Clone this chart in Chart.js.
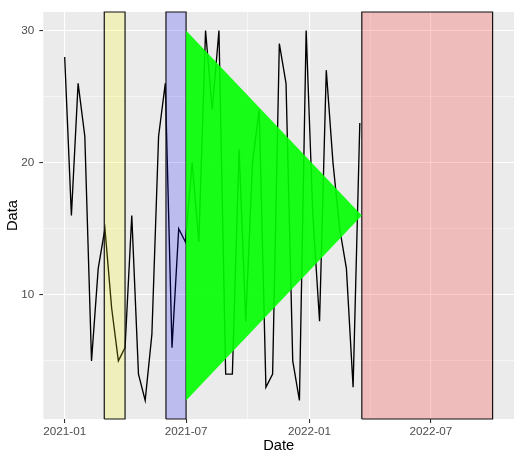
<!DOCTYPE html>
<html>
<head>
<meta charset="utf-8">
<script src="https://cdn.jsdelivr.net/npm/chart.js@4.4.1/dist/chart.umd.min.js"></script>
<style>
  html, body { margin: 0; padding: 0; background: #fff; }
  #wrap { width: 521px; height: 460px; }
</style>
</head>
<body>
<div id="wrap"><canvas id="chart"></canvas></div>
<script>
// line series (one reading every 10 days)
const lineDates = [
  '2021-01-01','2021-01-11','2021-01-21','2021-01-31','2021-02-10','2021-02-20',
  '2021-03-02','2021-03-12','2021-03-22','2021-04-01','2021-04-11','2021-04-21',
  '2021-05-01','2021-05-11','2021-05-21','2021-05-31','2021-06-10','2021-06-20',
  '2021-06-30','2021-07-10','2021-07-20','2021-07-30','2021-08-09','2021-08-19',
  '2021-08-29','2021-09-08','2021-09-18','2021-09-28','2021-10-08','2021-10-18',
  '2021-10-28','2021-11-07','2021-11-17','2021-11-27','2021-12-07','2021-12-17',
  '2021-12-27','2022-01-06','2022-01-16','2022-01-26','2022-02-05','2022-02-15',
  '2022-02-25','2022-03-07','2022-03-17'
];
const lineValues = [
  28, 16, 26, 22, 5, 12, 15, 9, 5, 6, 16, 4, 2, 7, 22, 26, 6, 15, 14,
  20, 14, 30, 24, 30, 4, 4, 21, 8, 20, 24, 3, 4, 29, 26, 5, 2, 30, 16, 8,
  27, 20, 15, 12, 3, 23
];

// shaded periods (full height)
const rectStarts = ['2021-03-01', '2021-06-01', '2022-03-20'];
const rectEnds   = ['2021-04-01', '2021-07-01', '2022-10-01'];
const rectFills  = ['rgba(255,255,0,0.2)', 'rgba(0,0,255,0.2)', 'rgba(255,0,0,0.2)'];

// green triangle
const triDates  = ['2021-07-01', '2022-03-20', '2021-07-01'];
const triValues = [30, 16, 2];

// axes
const xBreaks = ['2021-01-01', '2021-07-01', '2022-01-01', '2022-07-01'];
const xLabels = ['2021-01', '2021-07', '2022-01', '2022-07'];
const yBreaks = [10, 20, 30];
const yMinor  = [5, 15, 25];

const DAY = 86400000;
const origin = Date.UTC(2021, 0, 1);
function toDay(s) {
    const [y, m, d] = s.split('-').map(Number);
    return (Date.UTC(y, m - 1, d) - origin) / DAY;
}

const xMajor = xBreaks.map(toDay);
const xMinor = xMajor.slice(1).map((v, i) => (v + xMajor[i]) / 2);

// ggplot style 5% expansion
const allX = lineDates.map(toDay).concat(rectStarts.map(toDay), rectEnds.map(toDay), triDates.map(toDay));
const xLo = Math.min(...allX), xHi = Math.max(...allX);
const yLo = Math.min(...lineValues, ...triValues), yHi = Math.max(...lineValues, ...triValues);
const xMin = xLo - 0.05 * (xHi - xLo), xMax = xHi + 0.05 * (xHi - xLo);
const yMin = yLo - 0.05 * (yHi - yLo), yMax = yHi + 0.05 * (yHi - yLo);

const datasets = [{
    label: 'Data',
    data: lineDates.map((d, i) => ({ x: toDay(d), y: lineValues[i] })),
    borderColor: '#000',
    borderWidth: 1.35,
    pointRadius: 0,
    fill: false,
    tension: 0,
    order: 10
}];

rectStarts.forEach((s, i) => {
    const a = toDay(s), b = toDay(rectEnds[i]);
    datasets.push({
        label: 'rect' + i,
        data: [{ x: a, y: yMin }, { x: a, y: yMax }, { x: b, y: yMax }, { x: b, y: yMin }, { x: a, y: yMin }],
        borderColor: '#111',
        borderWidth: 1.2,
        backgroundColor: rectFills[i],
        pointRadius: 0,
        fill: 'shape',
        tension: 0,
        clip: 2,
        order: 5 - i
    });
});

datasets.push({
    label: 'tri',
    data: triDates.map((d, i) => ({ x: toDay(d), y: triValues[i] })),
    borderWidth: 0,
    borderColor: 'rgba(0,0,0,0)',
    backgroundColor: 'rgba(0,255,0,0.9)',
    pointRadius: 0,
    fill: 'shape',
    tension: 0,
    order: 0
});

const panelBg = {
    id: 'panelBg',
    beforeDraw(chart) {
        const { ctx, chartArea: a } = chart;
        ctx.save();
        ctx.fillStyle = '#EBEBEB';
        ctx.fillRect(a.left, a.top, a.right - a.left, a.bottom - a.top);
        ctx.restore();
    }
};

const tickFont = { family: 'Liberation Sans', size: 11.7 };
const titleFont = { family: 'Liberation Sans', size: 14.7 };

new Chart(document.getElementById('chart'), {
    type: 'line',
    data: { datasets },
    plugins: [panelBg],
    options: {
        responsive: true,
        maintainAspectRatio: false,
        animation: false,
        layout: { padding: { top: 7, right: 7, left: 0, bottom: 0 } },
        plugins: { legend: { display: false }, tooltip: { enabled: false } },
        scales: {
            x: {
                type: 'linear',
                min: xMin,
                max: xMax,
                afterBuildTicks: s => { s.ticks = xMajor.concat(xMinor).map(v => ({ value: v })); },
                afterFit: s => { s.height = 41; },
                ticks: {
                    autoSkip: false,
                    maxRotation: 0,
                    color: '#4D4D4D',
                    font: tickFont,
                    padding: 2,
                    callback: v => {
                        const k = xMajor.indexOf(v);
                        return k >= 0 ? xLabels[k] : '';
                    }
                },
                grid: {
                    color: '#fff',
                    lineWidth: c => xMajor.includes(c.tick.value) ? 1.1 : 0.55,
                    tickColor: c => xMajor.includes(c.tick.value) ? '#333' : 'rgba(0,0,0,0)',
                    tickLength: 4,
                    tickWidth: 1.1
                },
                border: { display: false },
                title: { display: true, text: 'Date', color: '#000', font: titleFont, padding: { top: 0, bottom: 5 } }
            },
            y: {
                type: 'linear',
                min: yMin,
                max: yMax,
                afterBuildTicks: s => { s.ticks = yBreaks.concat(yMinor).map(v => ({ value: v })); },
                afterFit: s => { s.width = 43.3; },
                ticks: {
                    autoSkip: false,
                    color: '#4D4D4D',
                    font: tickFont,
                    padding: 5,
                    callback: v => yBreaks.includes(v) ? String(v) : ''
                },
                grid: {
                    color: '#fff',
                    lineWidth: c => yBreaks.includes(c.tick.value) ? 1.1 : 0.55,
                    tickColor: c => yBreaks.includes(c.tick.value) ? '#333' : 'rgba(0,0,0,0)',
                    tickLength: 4,
                    tickWidth: 1.1
                },
                border: { display: false },
                title: { display: true, text: 'Data', color: '#000', font: titleFont, padding: { top: 4.5, bottom: 0 } }
            }
        }
    }
});
</script>
</body>
</html>
